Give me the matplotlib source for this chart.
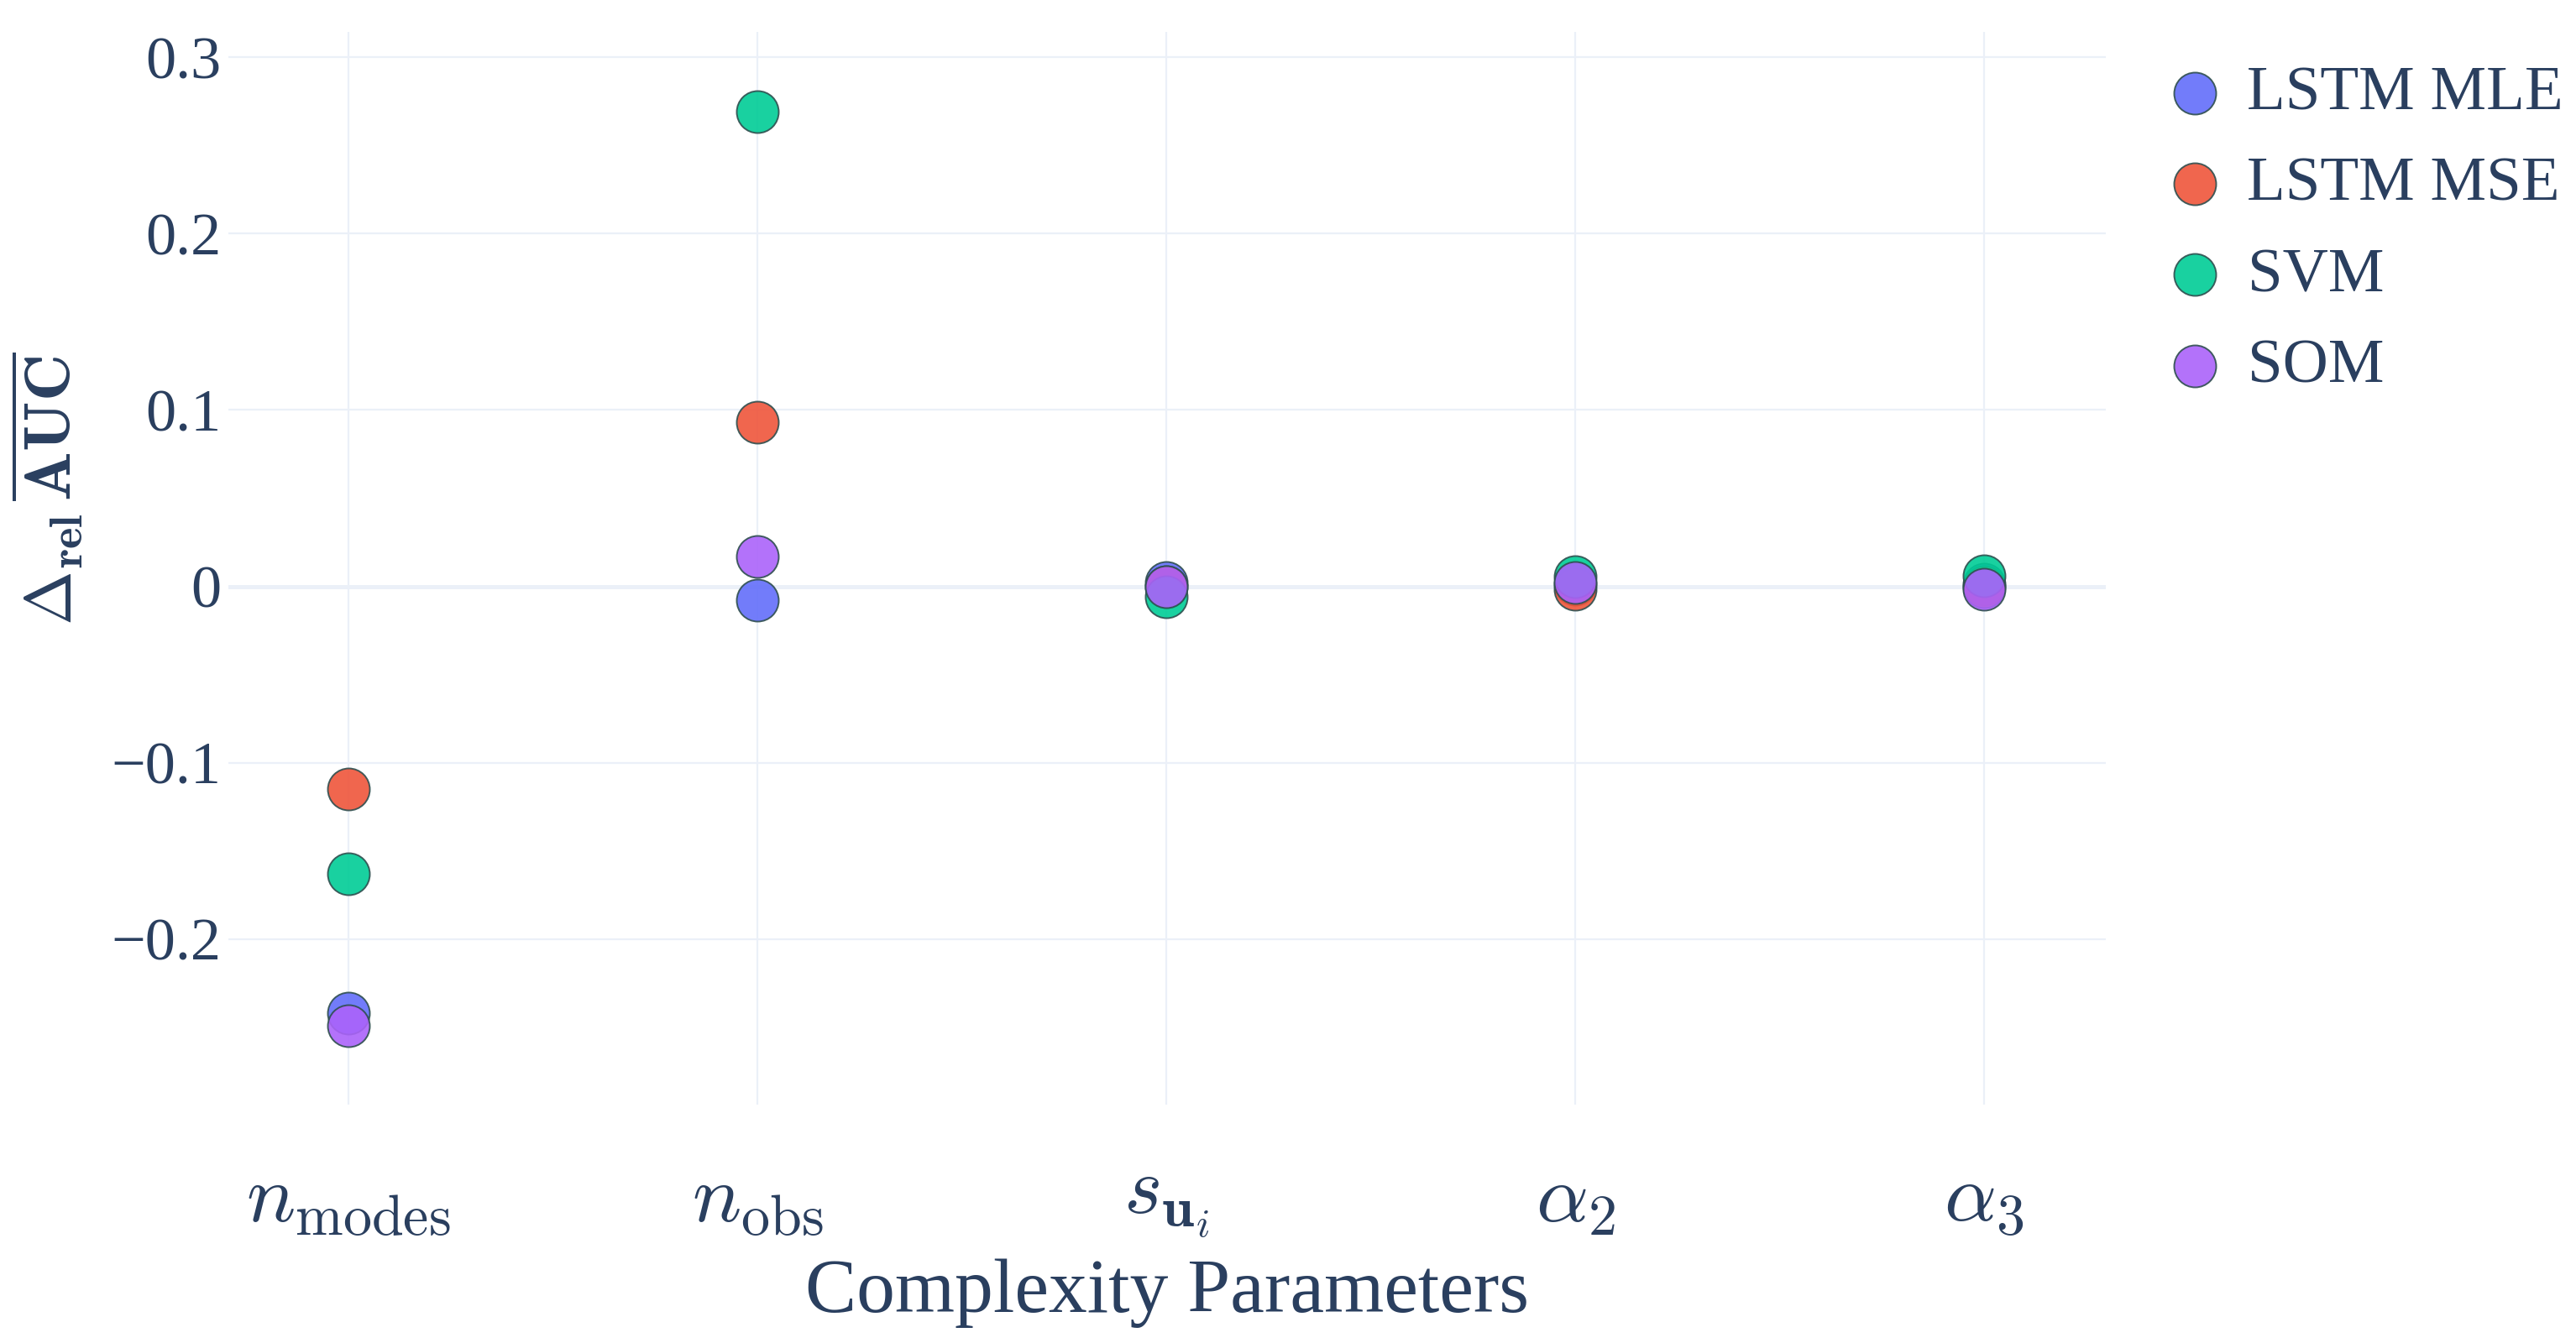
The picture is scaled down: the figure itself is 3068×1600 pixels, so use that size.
import matplotlib
matplotlib.use("Agg")
import matplotlib.pyplot as plt
import numpy as np

# ---- data ----
categories = [r'$n_{\mathrm{modes}}$', r'$n_{\mathrm{obs}}$', r'$s_{\mathbf{u}_i}$', r'$\alpha_2$', r'$\alpha_3$']
series_names = ['LSTM MLE', 'LSTM MSE', 'SVM', 'SOM']
lstm_mle = [-0.242, -0.008, 0.002, 0.001, 0.001]
lstm_mse = [-0.115, 0.093, 0.000, -0.0015, 0.000]
svm = [-0.163, 0.269, -0.0057, 0.0057, 0.006]
som = [-0.249, 0.0167, 0.000, 0.002, -0.0015]
series_values = [lstm_mle, lstm_mse, svm, som]
colors = ['#636EFA', '#EF553B', '#00CC96', '#AB63FA']
y_ticks = [-0.2, -0.1, 0, 0.1, 0.2, 0.3]
y_tick_labels = ['\u22120.2', '\u22120.1', '0', '0.1', '0.2', '0.3']

TEXT = '#2a3f5f'
GRID = '#EBF0F8'
plt.rcParams['font.family'] = ['Liberation Serif', 'DejaVu Serif']
plt.rcParams['mathtext.fontset'] = 'cm'

W, H = 3068, 1600
DPI = 200
fig = plt.figure(figsize=(W / DPI, H / DPI), dpi=DPI)
L, R, T, B = 272, 2508, 38, 1316
ax = fig.add_axes([L / W, 1 - B / H, (R - L) / W, (B - T) / H])

x = np.arange(len(categories))
for name, vals, c in zip(series_names, series_values, colors):
    ax.scatter(x, vals, s=18 ** 2, color=c, alpha=0.9, edgecolors='#2F4F4F',
               linewidths=0.7, label=name, zorder=3)

ax.set_xlim(-0.294, 4.298)
ax.set_ylim(-0.2938, 0.3143)
ax.set_xticks(x)
ax.set_xticklabels(categories, fontsize=35, color=TEXT)
ax.set_yticks(y_ticks)
ax.set_yticklabels(y_tick_labels, fontsize=26, color=TEXT)
ax.tick_params(axis='both', length=0)
ax.tick_params(axis='y', pad=3)
ax.tick_params(axis='x', pad=26)

for s in ax.spines.values():
    s.set_visible(False)
ax.grid(True, color=GRID, linewidth=0.8, zorder=0)
ax.set_axisbelow(True)
ax.axhline(0, color=GRID, linewidth=1.8, zorder=1)

ax.set_xlabel('Complexity Parameters', fontsize=33, color=TEXT, va='baseline')
ax.xaxis.set_label_coords(0.5, (B - 1563) / (B - T))
ax.set_ylabel(r'$\mathbf{\Delta_{rel}\,\overline{AUC}}$', fontsize=28, color=TEXT, va='center')
ax.yaxis.set_label_coords((57 - L) / (R - L), (B - 582) / (B - T))

leg = ax.legend(loc='upper left', bbox_to_anchor=(2576 / W, 1 - 78 / H),
                bbox_transform=fig.transFigure, frameon=False, fontsize=27,
                handlelength=1.0, handletextpad=0.34, labelspacing=0.53,
                borderpad=0, borderaxespad=0, scatterpoints=1)
for t in leg.get_texts():
    t.set_color(TEXT)

fig.savefig('out.png', dpi=DPI, facecolor='white')
